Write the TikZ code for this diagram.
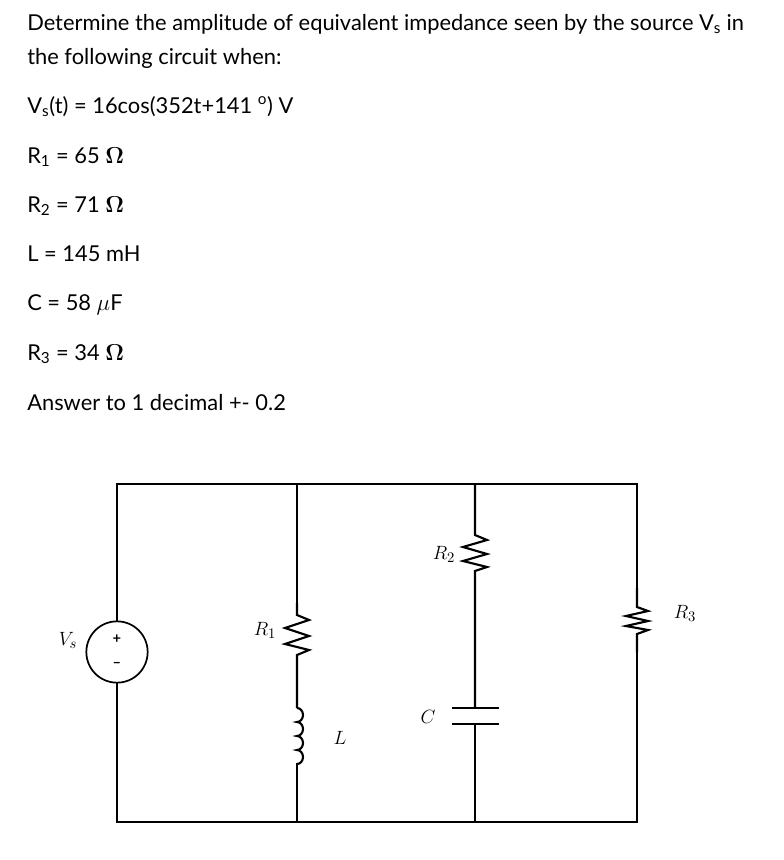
\documentclass[tikz,border=0pt]{standalone}
\usepackage{fontspec}
\setmainfont{Lato}
\newcommand{\ohmsym}{{\boldmath$\Omega$}}
\begin{document}
\begin{tikzpicture}[x=0.75pt,y=-0.75pt,
  txt/.style={anchor=base west,font=\fontsize{16.4}{19}\selectfont,inner sep=0},
  lbl/.style={font=\fontsize{15}{17}\selectfont,inner sep=0},
  w/.style={line width=2.2pt,line cap=rect},
  t/.style={line width=1.6pt}]
\useasboundingbox (0,0) rectangle (783,860);
\node[txt] (l1) at (27,30) {Determine the amplitude of equivalent impedance seen by the source V\textsubscript{s} in};
\node[txt] (l2) at (27,64) {the following circuit when:};
\node[txt] (l3) at (27,113) {V\textsubscript{s}(t) = 16cos(352t+141 \textsuperscript{o}) V};
\node[txt] (l4) at (27,163) {R\textsubscript{1} = 65 \ohmsym};
\node[txt] (l5) at (27,212) {R\textsubscript{2} = 71 \ohmsym};
\node[txt] (l6) at (27,261) {L = 145 mH};
\node[txt] (l7) at (27,310) {C = 58 $\mu$F};
\node[txt] (l8) at (27,360) {R\textsubscript{3} = 34 \ohmsym};
\node[txt] (l9) at (27,410) {Answer to 1 decimal +- 0.2};
% corners
\coordinate (tl) at (117,484); \coordinate (bl) at (117,822);
\coordinate (t1) at (297,484); \coordinate (b1) at (297,822);
\coordinate (t2) at (475,484); \coordinate (b2) at (475,822);
\coordinate (tr) at (637,484); \coordinate (br) at (637,822);
\draw[w] (bl) -- (br) -- (tr) -- (tl) -- (bl);
% source
\node[circle,draw,line width=1.3pt,minimum size=46,inner sep=0,fill=white] (vs) at (117,652) {};
\node[font=\bfseries\fontsize{11}{12}\selectfont] (pl) at (117,639) {+};
\node[font=\bfseries\fontsize{11}{12}\selectfont] (mi) at (117,665) {\textendash};
\node[lbl] (lvs) at (68,640) {$V_s$};
% R1 branch
\fill[white] (290,603) rectangle (320,765);
\draw[w] (t1) -- (297,603);
\draw[t] (297,603) -- (297,615) -- (309,620) -- (285,628) -- (309,636) -- (285,644) -- (309,650) -- (297,655) -- (297,708);
\draw[t] (297,708) arc(-90:90:6 and 7) arc(-90:90:6 and 7) arc(-90:90:6 and 7) arc(-90:90:6 and 7) -- (297,764);
\draw[w] (297,764) -- (b1);
\node[lbl] (lr1) at (265,630) {$R_1$};
\node[lbl] (ll) at (340,738) {$L$};
% R2 / C branch
\draw[t] (t2) -- (475,535) -- (487,540) -- (463,547) -- (487,554) -- (463,561) -- (487,567) -- (475,571) -- (475,708);
\draw[t] (452,708) -- (499,708);
\draw[t] (452,724) -- (499,724);
\draw[t] (475,724) -- (b2);
\node[lbl] (lr2) at (444,554) {$R_2$};
\node[lbl] (lc) at (428,717) {$C$};
% R3
\fill[white] (630,590) rectangle (660,650);
\draw[t] (637,588) -- (637,607) -- (648,611) -- (626,616) -- (648,621) -- (626,626) -- (648,630) -- (637,634) -- (637,652);
\node[lbl] (lr3) at (685,613) {$R_3$};
\end{tikzpicture}
\end{document}
